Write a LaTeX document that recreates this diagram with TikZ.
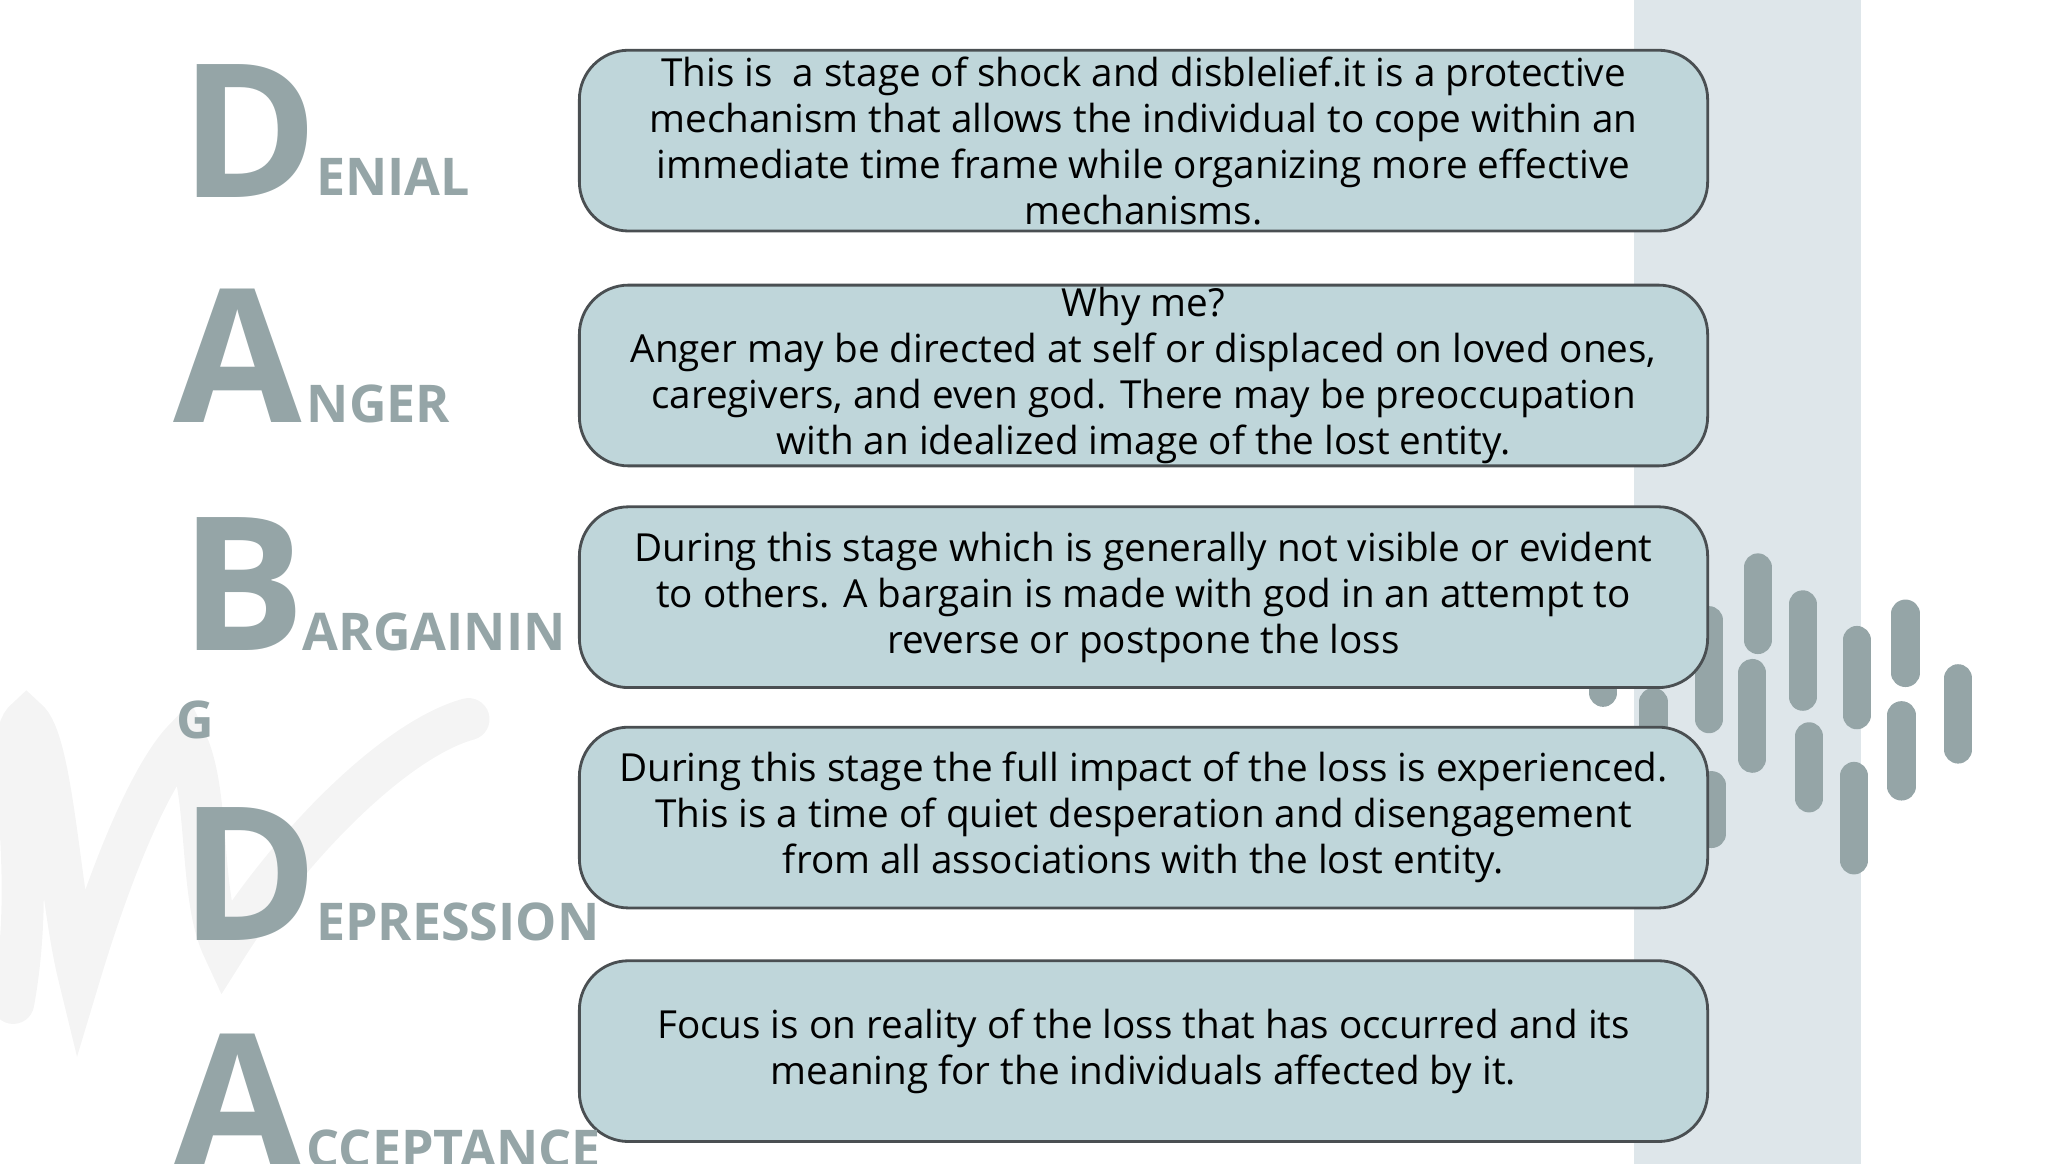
\documentclass[tikz,border=0pt]{standalone}
\usepackage{fontspec}
\setmainfont{Open Sans}
\definecolor{band}{HTML}{DEE6EA}
\definecolor{boxf}{HTML}{BFD6DA}
\definecolor{boxd}{HTML}{4A4F52}
\definecolor{lett}{HTML}{95A5A7}
\definecolor{scrib}{HTML}{F4F4F4}
\begin{document}
\begin{tikzpicture}[x=0.013196cm,y=-0.013196cm,
 stage/.style={draw=boxd,line width=0.8pt,fill=boxf,rounded corners=14pt,minimum width=855*0.013196cm,minimum height=137*0.013196cm,anchor=north west,align=center,font=\fontsize{11}{13.1}\selectfont,inner sep=0pt},
 big/.style={anchor=base west,text=lett,font=\fontsize{53}{54}\selectfont\bfseries,inner sep=0pt},
 small/.style={anchor=base west,text=lett,font=\fontsize{14.8}{16}\selectfont\bfseries,inner sep=0pt},
 stroke/.style={line width=8pt,line cap=round,draw=lett}]
\useasboundingbox (0,0) rectangle (1552,882);
\clip (0,0) rectangle (1552,882);
\fill[band] (1238,0) rectangle (1410,882);
% faint scribble
\draw[scrib,line width=12pt,line cap=round] (10,760) .. controls (30,650) and (0,560) .. (20,545) .. controls (40,560) and (45,680) .. (60,740) .. controls (90,640) and (120,580) .. (140,560) .. controls (160,600) and (150,680) .. (170,720) .. controls (220,640) and (300,560) .. (355,545);
% dashes
\foreach \x/\a/\b in {1215/505/525,1253/532/560,1295/470/545,1297/595/632,1332/430/485,1328/510/575,1366/458/528,1371/558/605,1407/485/542,1405/588/652,1444/465/510,1441/542/596,1484/514/568}
 \draw[stroke] (\x,\a) -- (\x,\b);
% boxes
\node[stage] (b1) at (438,37) {This is~ a stage of shock and disblelief.it is a protective\\mechanism that allows the individual to cope within an\\immediate time frame while organizing more effective\\mechanisms.};
\node[stage] (b2) at (438,215) {Why me?\\Anger may be directed at self or displaced on loved ones,\\caregivers, and even god. There may be preoccupation\\with an idealized image of the lost entity.};
\node[stage] (b3) at (438,383) {During this stage which is generally not visible or evident\\to others. A bargain is made with god in an attempt to\\reverse or postpone the loss};
\node[stage] (b4) at (438,550) {During this stage the full impact of the loss is experienced.\\This is a time of quiet desperation and disengagement\\from all associations with the lost entity.};
\node[stage] (b5) at (438,727) {Focus is on reality of the loss that has occurred and its\\meaning for the individuals affected by it.};
% letters
\node[big] (d1) at (136,150) {D}; \node[small] (t1) at (239,148) {ENIAL};
\node[big] (a1) at (131,320) {A}; \node[small] (t2) at (232,320) {NGER};
\node[big] (bb) at (136,493) {B}; \node[small] (t3) at (229,493) {ARGAININ};
\node[small] (t3g) at (133,560) {G};
\node[big] (d2) at (136,713) {D}; \node[small] (t4) at (239,713) {EPRESSION};
\node[big] (a2) at (131,885) {A}; \node[small] (t5) at (232,885) {CCEPTANCE};
\end{tikzpicture}
\end{document}
